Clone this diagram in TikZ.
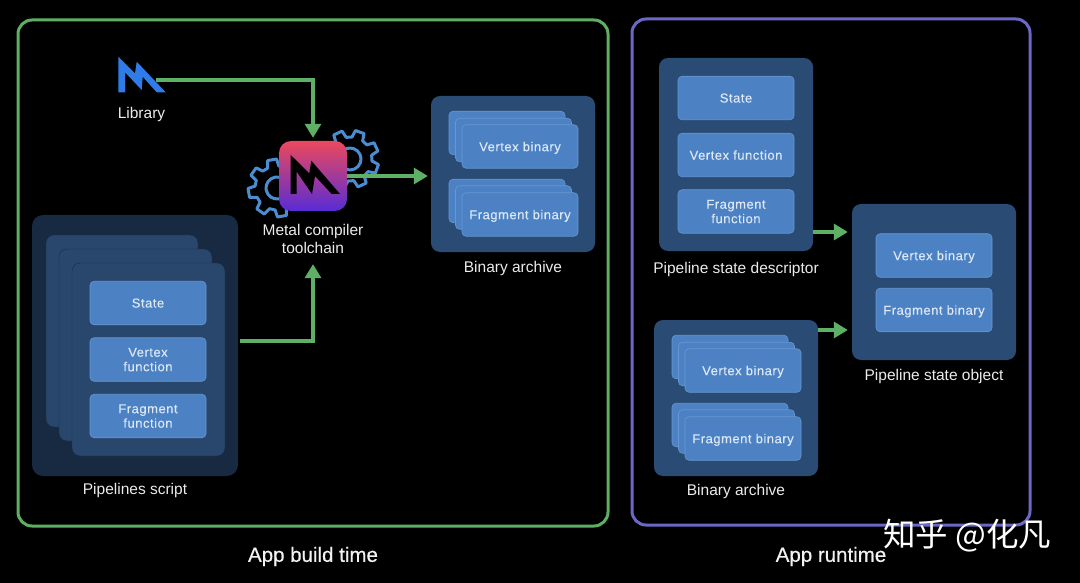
\documentclass[tikz,border=0pt]{standalone}
\usepackage{fontspec}
\setmainfont{Liberation Sans}
\newfontfamily\cjkwm{Noto Sans CJK SC}
\usetikzlibrary{arrows.meta,calc}
\definecolor{buildgreen}{HTML}{5FAF62}
\definecolor{runpurple}{HTML}{6A68C4}
\definecolor{flowgreen}{HTML}{5DB065}
\definecolor{cardblue}{HTML}{4C82C4}
\definecolor{cardedge}{HTML}{6697D0}
\definecolor{stackblue}{HTML}{29476C}
\definecolor{panelblue}{HTML}{2A4B74}
\definecolor{paneldark}{HTML}{172A42}
\definecolor{gearblue}{HTML}{4A8DD0}
\definecolor{logoblue}{HTML}{2F7BE8}
\definecolor{cardtext}{HTML}{DCE8F6}
\definecolor{icontop}{HTML}{EC485C}
\definecolor{iconbottom}{HTML}{582CD6}
\tikzset{
  frame/.style={draw,line width=3pt,rounded corners=14pt,fill=none},
  panel/.style={fill=panelblue,rounded corners=9pt,inner sep=0pt},
  darkpanel/.style={fill=paneldark,rounded corners=11pt,inner sep=0pt},
  stackcard/.style={fill=stackblue,draw=black!40!stackblue,line width=.4pt,rounded corners=8pt,inner sep=0pt},
  card/.style={fill=cardblue,draw=cardedge,line width=.6pt,rounded corners=4pt,inner sep=0pt,
    minimum width=116pt,minimum height=43.5pt,text=cardtext,align=center,text depth=0pt,
    font=\fontsize{13}{14.5}\selectfont\addfontfeatures{LetterSpace=4,FakeBold=0.15}},
  caption/.style={text=white!92!black,align=center,inner sep=0pt,font=\fontsize{15.5}{18.5}\selectfont},
  heading/.style={text=white!95!black,inner sep=0pt,font=\fontsize{20.5}{22}\selectfont\addfontfeatures{FakeBold=0.5}},
  flow/.style={draw=flowgreen,line width=3.2pt,-{Triangle[width=16pt,length=14pt]}},
  gear/.style={draw=gearblue,line width=3pt,line join=round},
  anchorbox/.style={inner sep=0pt,minimum width=#1,minimum height=1pt},
}
\newcommand{\gearshape}[3]{%
  \draw[gear,shift={(#1,#2)},rotate=#3]
    (-15:22) -- (-9:29) -- (9:29) -- (15:22)
    -- (30:22) -- (36:29) -- (54:29) -- (60:22)
    -- (75:22) -- (81:29) -- (99:29) -- (105:22)
    -- (120:22) -- (126:29) -- (144:29) -- (150:22)
    -- (165:22) -- (171:29) -- (189:29) -- (195:22)
    -- (210:22) -- (216:29) -- (234:29) -- (240:22)
    -- (255:22) -- (261:29) -- (279:29) -- (285:22)
    -- (300:22) -- (306:29) -- (324:29) -- (330:22) -- cycle
    (0,0) circle[radius=11];%
}
\begin{document}
\begin{tikzpicture}[x=1pt,y=-1pt]
\useasboundingbox[fill=black] (0,0) rectangle (1080,583);

\draw[frame,draw=buildgreen] (18,20) rectangle (608,526);
\draw[frame,draw=runpurple] (632,19) rectangle (1030,525);

% Compiler
\gearshape{277}{188}{10}
\gearshape{350}{159}{25}
\node[minimum width=68pt,minimum height=70pt,inner sep=0pt,rounded corners=12pt,
      top color=icontop,bottom color=iconbottom] (icon) at (313,176) {};
\fill[black] (290.7,155) -- (309.3,173.3) -- (311.3,160.7) -- (340,194) -- (331.7,194) -- (315,176) -- (312,194) -- (296.7,171.7) -- (296.7,194) -- (290.7,194) -- cycle;
\node[caption] (tool) at (313,239) {Metal compiler\\toolchain};

% Library logo
\node[anchorbox=34pt] (lib) at (139,80) {};
\draw[flow] (lib.east) -| ([yshift=3pt]icon.north);
\fill[logoblue] (118.3,56.7) -- (135,73.3) -- (136.7,61.7) -- (165.7,92.3) -- (156.7,92.3) -- (142.7,76.7) -- (141.7,90) -- (125,72.3) -- (125,92.3) -- (118.3,92.3) -- cycle;
\node[caption] (libtxt) at (141.5,114) {Library};

% Pipelines script
\node[darkpanel,minimum width=206pt,minimum height=261pt] (pipe) at (135,345.5) {};
\node[stackcard,minimum width=152pt,minimum height=192pt] (sa) at (122,331) {};
\node[stackcard,minimum width=153pt,minimum height=192pt] (sb) at (135.5,345) {};
\node[stackcard,minimum width=153pt,minimum height=193pt] (sc) at (148.5,359.5) {};
\node[card] (pstate) at (148,303) {State};
\node[card] (pvert) at (148,359.5) {Vertex\\function};
\node[card] (pfrag) at (148,416) {Fragment\\function};
\node[caption] (pipetxt) at (135,490.5) {Pipelines script};

% Binary archive (build)
\node[panel,minimum width=164pt,minimum height=156pt] (arca) at (513,174) {};
\node[card] (av1) at (507,133) {};
\node[card] (av2) at (513.5,140) {};
\node[card] (av3) at (520,146.5) {Vertex binary};
\node[card] (af1) at (507,201) {};
\node[card] (af2) at (513.5,207.5) {};
\node[card] (af3) at (520,214.5) {Fragment binary};
\node[caption] (arcatxt) at (513,268) {Binary archive};

% Descriptor
\node[panel,minimum width=154pt,minimum height=193pt] (desc) at (736,154.5) {};
\node[card] (dstate) at (736,98) {State};
\node[card] (dvert) at (736,155) {Vertex function};
\node[card] (dfrag) at (736,211.5) {Fragment\\function};
\node[caption] (desctxt) at (736,269.5) {Pipeline state descriptor};

% Binary archive (runtime)
\node[panel,minimum width=164pt,minimum height=156pt] (arcb) at (736,398) {};
\node[card] (bv1) at (730,357) {};
\node[card] (bv2) at (736.5,364) {};
\node[card] (bv3) at (743,370.5) {Vertex binary};
\node[card] (bf1) at (730,425) {};
\node[card] (bf2) at (736.5,431.5) {};
\node[card] (bf3) at (743,438.5) {Fragment binary};
\node[caption] (arcbtxt) at (736,491.5) {Binary archive};

% Pipeline state object
\node[panel,minimum width=164pt,minimum height=156pt] (pso) at (934,282) {};
\node[card] (ov) at (934,255.5) {Vertex binary};
\node[card] (of) at (934,310) {Fragment binary};
\node[caption] (psotxt) at (934,376) {Pipeline state object};

% Connectors
\coordinate (pipeout) at ([yshift=4.5pt]pipe.east);
\draw[flow] ([xshift=2pt]pipeout) -| ([yshift=-10pt]tool.south);
\draw[flow] (icon.east) -- ([xshift=-3pt]icon.east -| arca.west);
\coordinate (descout) at ([yshift=-77.5pt]desc.east);
\draw[flow] (descout) -- ([xshift=-4pt]descout -| pso.west);
\coordinate (arcout) at ([yshift=68pt]arcb.east);
\draw[flow] (arcout) -- ([xshift=-4pt]arcout -| pso.west);

\node[heading] (build) at (313,556.5) {App build time};
\node[heading] (run) at (831,556.5) {App runtime};
\node[text=white,inner sep=0pt,anchor=west,font=\fontsize{32.5}{32.5}\cjkwm] (wm) at (883,536) {知乎 @化凡};
\end{tikzpicture}
\end{document}
